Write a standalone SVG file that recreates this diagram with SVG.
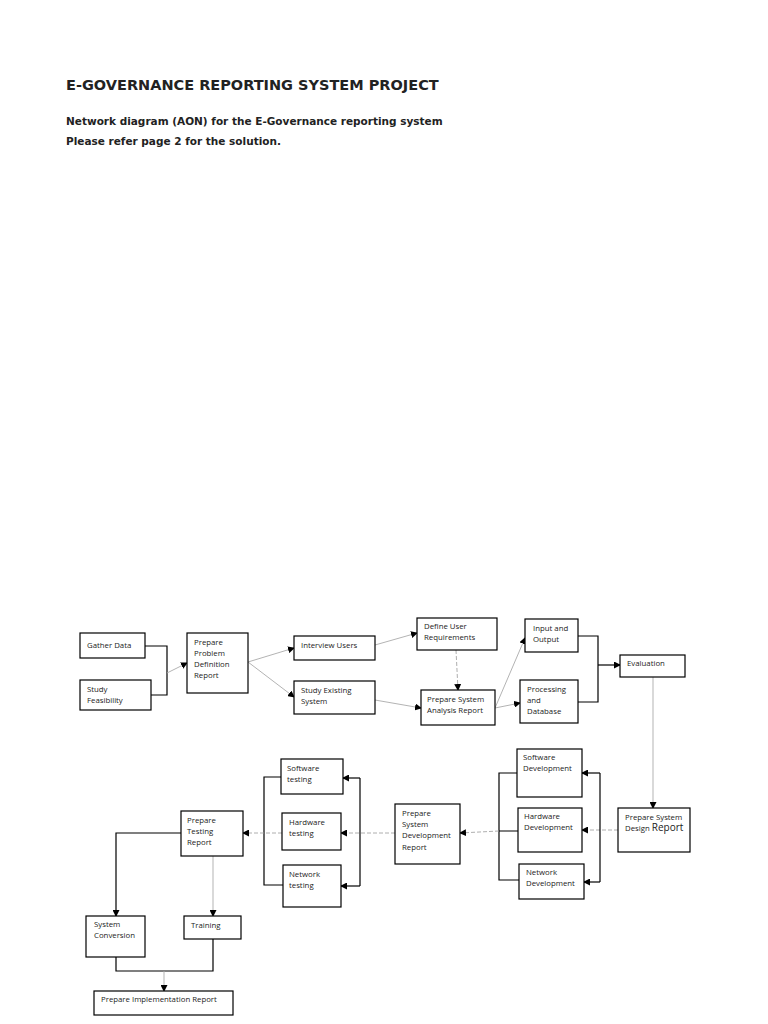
<svg xmlns="http://www.w3.org/2000/svg" width="768" height="1024" viewBox="0 0 768 1024">
<style>
.h{font-family:"DejaVu Sans",sans-serif;font-weight:bold;fill:#222}
rect{fill:#fff;stroke:#000;stroke-width:1.2}
text.t{font-family:"Open Sans","Liberation Sans",sans-serif;font-size:7.8px;fill:#222}
.big{font-size:10px}
.s{fill:none;stroke:#000;stroke-width:1.2}
.d{fill:none;stroke:#999;stroke-width:0.8;stroke-dasharray:4 2}
.g{fill:none;stroke:#aaa;stroke-width:0.9}
</style>
<defs><marker id="a" markerWidth="7" markerHeight="7" refX="6" refY="3.5" orient="auto" markerUnits="userSpaceOnUse"><path d="M0,0L7,3.5L0,7z" fill="#000"/></marker></defs>
<rect x="0" y="0" width="768" height="1024" style="stroke:none"/>
<text class="h" x="66" y="90" font-size="14.5">E-GOVERNANCE REPORTING SYSTEM PROJECT</text>
<text class="h" x="66" y="125" font-size="10.5">Network diagram (AON) for the E-Governance reporting system</text>
<text class="h" x="66" y="145" font-size="10.5">Please refer page 2 for the solution.</text>
<g id="connectors">
<path class="s" d="M145,646H167V695H151"/>
<path class="g" d="M167,673L187,663" marker-end="url(#a)"/>
<path class="g" d="M248,662L294,648" marker-end="url(#a)"/>
<path class="g" d="M248,662L294,697" marker-end="url(#a)"/>
<path class="g" d="M375,645L417,633" marker-end="url(#a)"/>
<path class="g" d="M375,700L421,708" marker-end="url(#a)"/>
<path class="d" d="M456,650L458,690" marker-end="url(#a)"/>
<path class="g" d="M495,708L525,638" marker-end="url(#a)"/>
<path class="g" d="M495,708L520,703" marker-end="url(#a)"/>
<path class="s" d="M578,636H598V702H578"/>
<path class="s" d="M598,665H620" marker-end="url(#a)"/>
<path class="g" d="M653,677V808" marker-end="url(#a)"/>
<path class="d" d="M618,830H582" marker-end="url(#a)"/>
<path class="s" d="M600,773V882"/>
<path class="s" d="M600,773H582" marker-end="url(#a)"/>
<path class="s" d="M600,882H584" marker-end="url(#a)"/>
<path class="s" d="M517,773H499V880H519M499,831H518"/>
<path class="d" d="M499,831L460,833" marker-end="url(#a)"/>
<path class="d" d="M395,833H341" marker-end="url(#a)"/>
<path class="s" d="M360,778V886"/>
<path class="s" d="M360,778H343" marker-end="url(#a)"/>
<path class="s" d="M360,886H341" marker-end="url(#a)"/>
<path class="s" d="M281,777H264V885H283"/>
<path class="d" d="M282,833H243" marker-end="url(#a)"/>
<path class="s" d="M181,833H116V916" marker-end="url(#a)"/>
<path class="g" d="M213,856V916" marker-end="url(#a)"/>
<path class="s" d="M116,957V971H213V939"/>
<path class="g" d="M164,971V991" marker-end="url(#a)"/>
</g>
<g id="gather"><rect x="80" y="633" width="65" height="25"/><text class="t" x="87" y="648">Gather Data</text></g>
<g id="feas"><rect x="80" y="680" width="71" height="30"/><text class="t" x="87" y="692">Study</text><text class="t" x="87" y="703">Feasibility</text></g>
<g id="ppd"><rect x="187" y="633" width="61" height="60"/><text class="t" x="194" y="645">Prepare</text><text class="t" x="194" y="656">Problem</text><text class="t" x="194" y="667">Definition</text><text class="t" x="194" y="678">Report</text></g>
<g id="iu"><rect x="294" y="636" width="81" height="24"/><text class="t" x="301" y="648">Interview Users</text></g>
<g id="ses"><rect x="294" y="681" width="81" height="33"/><text class="t" x="301" y="693">Study Existing</text><text class="t" x="301" y="704">System</text></g>
<g id="dur"><rect x="417" y="618" width="80" height="32"/><text class="t" x="424" y="629">Define User</text><text class="t" x="424" y="640">Requirements</text></g>
<g id="psa"><rect x="421" y="690" width="74" height="35"/><text class="t" x="427" y="702">Prepare System</text><text class="t" x="427" y="713">Analysis Report</text></g>
<g id="io"><rect x="525" y="619" width="53" height="33"/><text class="t" x="533" y="631">Input and</text><text class="t" x="533" y="642">Output</text></g>
<g id="pd"><rect x="520" y="680" width="58" height="43"/><text class="t" x="527" y="692">Processing</text><text class="t" x="527" y="703">and</text><text class="t" x="527" y="714">Database</text></g>
<g id="eval"><rect x="620" y="655" width="65" height="22"/><text class="t" x="627" y="666">Evaluation</text></g>
<g id="psd"><rect x="618" y="808" width="72" height="44"/><text class="t" x="625" y="820">Prepare System</text><text class="t" x="625" y="831">Design <tspan class="big">Report</tspan></text></g>
<g id="swd"><rect x="517" y="749" width="65" height="48"/><text class="t" x="523" y="760">Software</text><text class="t" x="523" y="771">Development</text></g>
<g id="hwd"><rect x="518" y="808" width="64" height="44"/><text class="t" x="524" y="819">Hardware</text><text class="t" x="524" y="830">Development</text></g>
<g id="nwd"><rect x="519" y="864" width="65" height="35"/><text class="t" x="526" y="875">Network</text><text class="t" x="526" y="886">Development</text></g>
<g id="psdr"><rect x="395" y="804" width="65" height="60"/><text class="t" x="402" y="816">Prepare</text><text class="t" x="402" y="827">System</text><text class="t" x="402" y="838">Development</text><text class="t big" x="402" y="850">Report</text></g>
<g id="swt"><rect x="281" y="759" width="62" height="35"/><text class="t" x="287" y="771">Software</text><text class="t" x="287" y="782">testing</text></g>
<g id="hwt"><rect x="282" y="813" width="59" height="37"/><text class="t" x="289" y="825">Hardware</text><text class="t" x="289" y="836">testing</text></g>
<g id="nwt"><rect x="283" y="865" width="58" height="42"/><text class="t" x="289" y="877">Network</text><text class="t" x="289" y="888">testing</text></g>
<g id="ptr"><rect x="181" y="811" width="62" height="45"/><text class="t" x="187" y="823">Prepare</text><text class="t" x="187" y="834">Testing</text><text class="t" x="187" y="845">Report</text></g>
<g id="sc"><rect x="86" y="916" width="59" height="41"/><text class="t" x="94" y="927">System</text><text class="t" x="94" y="938">Conversion</text></g>
<g id="tr"><rect x="184" y="916" width="57" height="23"/><text class="t" x="191" y="928">Training</text></g>
<g id="pir"><rect x="94" y="991" width="139" height="24"/><text class="t" x="101" y="1002">Prepare Implementation Report</text></g>
</svg>
